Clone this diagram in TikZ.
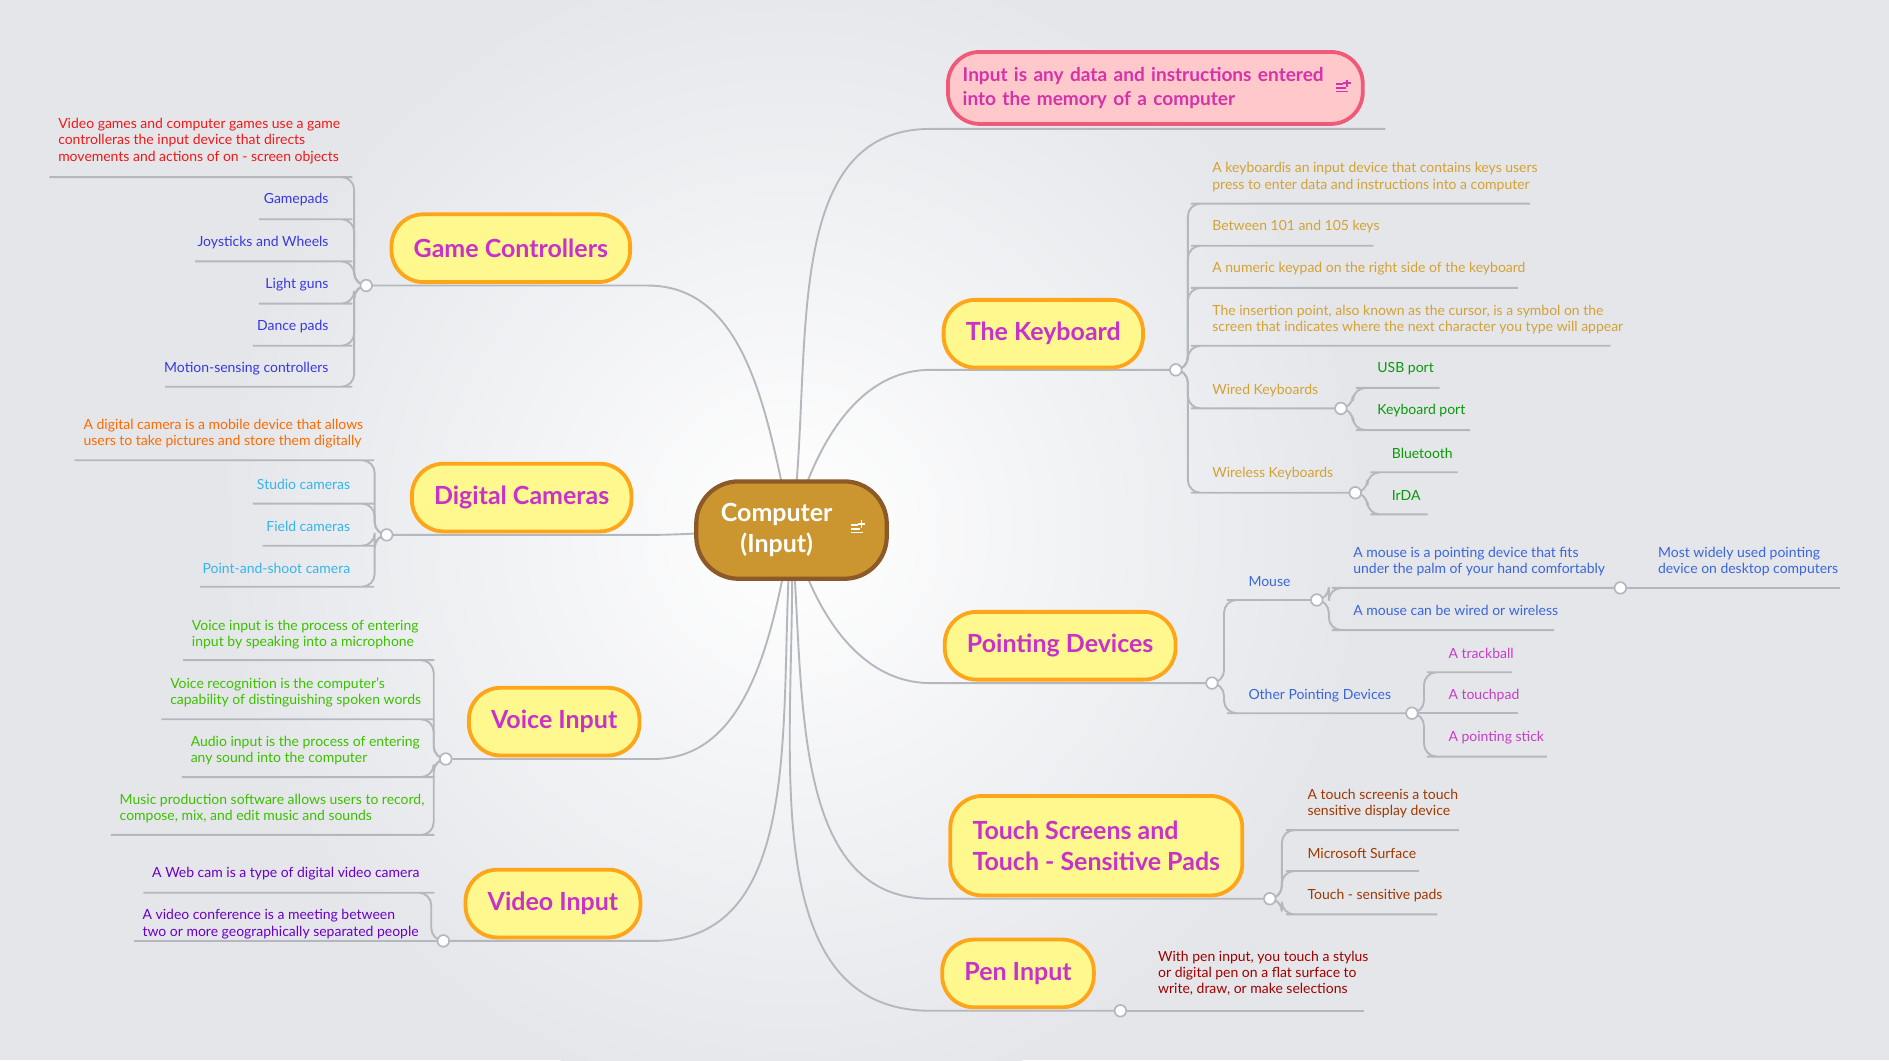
\documentclass[tikz,border=0pt]{standalone}
\usepackage{fontspec}
\setmainfont{Lato}
\usetikzlibrary{calc}
\definecolor{bg}{HTML}{E4E6EA}
\definecolor{cn}{HTML}{B4B8BE}
\definecolor{bfill}{HTML}{FFF88F}
\definecolor{bdraw}{HTML}{FFA51A}
\definecolor{btext}{HTML}{C932C9}
\definecolor{nfill}{HTML}{FFC8CA}
\definecolor{ndraw}{HTML}{F05A78}
\definecolor{ntext}{HTML}{D632AA}
\definecolor{cfill}{HTML}{CB9630}
\definecolor{cdraw}{HTML}{8C5A28}
\definecolor{cred}{HTML}{F01818}
\definecolor{cblue}{HTML}{3838E0}
\definecolor{corange}{HTML}{FF6A00}
\definecolor{ccyan}{HTML}{33B5EE}
\definecolor{cgreen}{HTML}{3CC000}
\definecolor{cpurple}{HTML}{6A00C8}
\definecolor{cgold}{HTML}{D4A234}
\definecolor{cdgreen}{HTML}{089A08}
\definecolor{cpblue}{HTML}{3A66DD}
\definecolor{cmag}{HTML}{C83CC8}
\definecolor{cbrown}{HTML}{A03800}
\definecolor{cdred}{HTML}{A00000}
\tikzset{
 conn/.style={draw=cn,line width=0.9pt,rounded corners=6pt},
 leaf/.style={font=\fontsize{6.6}{7.7}\selectfont,inner sep=0pt,align=left},
 branch/.style={draw=bdraw,fill=bfill,line width=1.8pt,rounded corners=15pt,text=btext,
   font=\fontsize{11.8}{14.8}\selectfont\bfseries,minimum height=32pt,inner xsep=10.5pt,align=left},
 jn/.style={circle,draw=cn,fill=white,line width=0.8pt,minimum size=5.5pt,inner sep=0pt}
}
\newcommand\lfR[9]{\node[leaf,text=#8,anchor=#4] (#2) at (#3) {#9};
 \draw[conn] (#1) -- ++(10,0) |- (#6,#5) -- (#7,#5);}
\newcommand\lfL[9]{\node[leaf,text=#8,anchor=#4] (#2) at (#3) {#9};
 \draw[conn] (#1) -- ++(-10,0) |- (#6,#5) -- (#7,#5);}
\newcommand\lfS[9]{\node[leaf,text=#8,anchor=#4] (#2) at (#3) {#9};
 \draw[draw=cn,line width=0.9pt] (#1) -- (#7,#5);}
\newcommand\noteicon[3]{\draw[#3,line width=0.8pt] (#1-5,#2-3) -- (#1+1,#2-3) (#1-5,#2) -- (#1+3,#2) (#1-5,#2+3) -- (#1+5,#2+3)
  (#1+4,#2-7) -- (#1+4,#2-1) (#1+1,#2-4) -- (#1+7,#2-4);}
\begin{document}
\begin{tikzpicture}[x=0.02cm,y=-0.02cm]
\useasboundingbox (0,0) rectangle (1568,880);
\fill[bg] (0,0) rectangle (1568,880);
\shade[inner color=white,outer color=bg] (657,440) circle (480);
% junctions
\coordinate (C) at (657,440);
\coordinate (jgc) at (304,237); \coordinate (jdc) at (321,444);
\coordinate (jvi) at (370,630); \coordinate (jvd) at (368,781);
\coordinate (jkb) at (976,307); \coordinate (jpd) at (1006,567);
\coordinate (jts) at (1054,746); \coordinate (jpi) at (930,839);
\coordinate (jwk) at (1113,339); \coordinate (jwl) at (1125,409);
\coordinate (jms) at (1093,498); \coordinate (jop) at (1172,592);
\coordinate (jm1) at (1345,488);
% main curves
\draw[conn] (C) to[out=82,in=180] (783,107) -- (1150,107);
\draw[conn] (C) to[out=75,in=180] (783,307) -- (jkb);
\draw[conn] (C) to[out=-75,in=180] (783,567) -- (jpd);
\draw[conn] (C) to[out=-85,in=180] (783,746) -- (jts);
\draw[conn] (C) to[out=-88,in=180] (783,839) -- (jpi);
\draw[conn] (C) to[out=102,in=0] (527,237) -- (jgc);
\draw[conn] (C) to[out=180,in=0] (527,444) -- (jdc);
\draw[conn] (C) to[out=-100,in=0] (532,630) -- (jvi);
\draw[conn] (C) to[out=-95,in=0] (532,781) -- (jvd);
% branch nodes
\node[draw=ndraw,fill=nfill,line width=1.8pt,rounded corners=15pt,
 text=ntext,font=\fontsize{9}{11.3}\selectfont\bfseries,align=left,
 minimum height=34pt,inner xsep=7pt,text width=182pt] (note) at (959,73)
 {Input is any data and instructions entered\\into the memory of a computer};
\node[branch] (kb) at (866,277) {The Keyboard};
\node[branch] (pd) at (880,536) {Pointing Devices};
\node[branch,minimum height=47pt] (ts) at (910,702) {Touch Screens and\\Touch - Sensitive Pads};
\node[branch] (pi) at (845,808) {Pen Input};
\node[branch] (gc) at (424,206) {Game Controllers};
\node[branch] (dc) at (433,413) {Digital Cameras};
\node[branch] (vi) at (460,599) {Voice Input};
\node[branch] (vd) at (459,750) {Video Input};
\node[draw=cdraw,fill=cfill,line width=2pt,rounded corners=20pt,
 text=white,font=\fontsize{11.8}{14.8}\selectfont\bfseries,align=center,minimum width=90pt,minimum height=46pt,inner xsep=6pt]
 (center) at (C) {\hspace*{-14pt}Computer\\\hspace*{-14pt}(Input)};
\noteicon{711}{439}{white}
\noteicon{1114}{73}{ntext}
% game controllers
\lfL{jgc}{g1}{48,117}{west}{147}{282}{41}{cred}{Video games and computer games use a game\\controlleras the input device that directs\\movements and actions of on - screen objects}
\lfL{jgc}{g2}{273,166}{east}{182}{282}{215}{cblue}{Gamepads}
\lfL{jgc}{g3}{273,201}{east}{217}{282}{162}{cblue}{Joysticks and Wheels}
\lfL{jgc}{g4}{273,236}{east}{252}{282}{215}{cblue}{Light guns}
\lfL{jgc}{g5}{273,271}{east}{287}{282}{210}{cblue}{Dance pads}
\lfL{jgc}{g6}{273,306}{east}{321}{282}{137}{cblue}{Motion-sensing controllers}
% digital cameras
\lfL{jdc}{d1}{69,360}{west}{382}{300}{62}{corange}{A digital camera is a mobile device that allows\\users to take pictures and store them digitally}
\lfL{jdc}{d2}{291,402}{east}{418}{300}{210}{ccyan}{Studio cameras}
\lfL{jdc}{d3}{291,437}{east}{453}{300}{218}{ccyan}{Field cameras}
\lfL{jdc}{d4}{291,472}{east}{487}{300}{166}{ccyan}{Point-and-shoot camera}
% voice
\lfL{jvi}{v1}{159,527}{west}{548}{350}{152}{cgreen}{Voice input is the process of entering\\input by speaking into a microphone}
\lfL{jvi}{v2}{141,575}{west}{597}{350}{134}{cgreen}{Voice recognition is the computer's\\capability of distinguishing spoken words}
\lfL{jvi}{v3}{158,623}{west}{645}{350}{151}{cgreen}{Audio input is the process of entering\\any sound into the computer}
\lfL{jvi}{v4}{99,671}{west}{693}{350}{92}{cgreen}{Music production software allows users to record,\\compose, mix, and edit music and sounds}
% video
\lfL{jvd}{w1}{126,725}{west}{741}{350}{119}{cpurple}{A Web cam is a type of digital video camera}
\lfS{jvd}{w2}{118,767}{west}{781}{350}{111}{cpurple}{A video conference is a meeting between\\two or more geographically separated people}
% keyboard
\lfR{jkb}{k1}{1006,147}{west}{169}{999}{1270}{cgold}{A keyboardis an input device that contains keys users\\press to enter data and instructions into a computer}
\lfR{jkb}{k2}{1006,188}{west}{204}{999}{1140}{cgold}{Between 101 and 105 keys}
\lfR{jkb}{k3}{1006,223}{west}{239}{999}{1260}{cgold}{A numeric keypad on the right side of the keyboard}
\lfR{jkb}{k4}{1006,265}{west}{287}{999}{1337}{cgold}{The insertion point, also known as the cursor, is a symbol on the\\screen that indicates where the next character you type will appear}
\lfR{jkb}{k5}{1006,324}{west}{339}{999}{1113}{cgold}{Wired Keyboards}
\lfR{jkb}{k6}{1006,393}{west}{409}{999}{1125}{cgold}{Wireless Keyboards}
\lfR{jwk}{k51}{1143,306}{west}{322}{1136}{1195}{cdgreen}{USB port}
\lfR{jwk}{k52}{1143,341}{west}{357}{1136}{1220}{cdgreen}{Keyboard port}
\lfR{jwl}{k61}{1155,376}{west}{392}{1148}{1210}{cdgreen}{Bluetooth}
\lfR{jwl}{k62}{1155,411}{west}{427}{1148}{1185}{cdgreen}{IrDA}
% pointing
\lfR{jpd}{p1}{1036,483}{west}{498}{1029}{1093}{cpblue}{Mouse}
\lfR{jpd}{p2}{1036,577}{west}{592}{1029}{1172}{cpblue}{Other Pointing Devices}
\lfR{jms}{p11}{1123,466}{west}{488}{1116}{1345}{cpblue}{A mouse is a pointing device that fits\\under the palm of your hand comfortably}
\lfR{jms}{p12}{1123,507}{west}{523}{1116}{1290}{cpblue}{A mouse can be wired or wireless}
\lfS{jm1}{p111}{1376,466}{west}{488}{1369}{1527}{cpblue}{Most widely used pointing\\device on desktop computers}
\lfR{jop}{p21}{1202,542}{west}{558}{1195}{1255}{cmag}{A trackball}
\lfS{jop}{p22}{1202,577}{west}{592}{1195}{1260}{cmag}{A touchpad}
\lfR{jop}{p23}{1202,612}{west}{628}{1195}{1284}{cmag}{A pointing stick}
% touch
\lfR{jts}{t1}{1085,667}{west}{689}{1078}{1211}{cbrown}{A touch screenis a touch\\sensitive display device}
\lfR{jts}{t2}{1085,708}{west}{723}{1078}{1178}{cbrown}{Microsoft Surface}
\lfR{jts}{t3}{1085,743}{west}{759}{1078}{1193}{cbrown}{Touch - sensitive pads}
% pen
\lfS{jpi}{q1}{961,808}{west}{839}{954}{1132}{cdred}{With pen input, you touch a stylus\\or digital pen on a flat surface to\\write, draw, or make selections}
% junction circles
\foreach \j in {jgc,jdc,jvi,jvd,jkb,jpd,jts,jpi,jwk,jwl,jms,jop,jm1}
 \node[jn] at (\j) {};
\end{tikzpicture}
\end{document}
